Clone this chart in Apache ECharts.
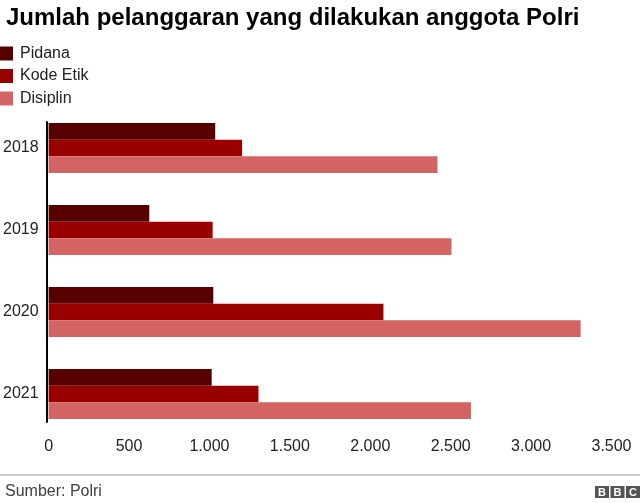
<!DOCTYPE html>
<html>
<head>
<meta charset="utf-8">
<script src="https://cdn.jsdelivr.net/npm/echarts@6/dist/echarts.min.js"></script>
<style>
  html, body { margin: 0; padding: 0; background: #fff; }
  #chart { width: 640px; height: 503px; }
</style>
</head>
<body>
<div id="chart"></div>
<script>
const titleText = 'Jumlah pelanggaran yang dilakukan anggota Polri';
const sourceText = 'Sumber: Polri';
const years = ['2018', '2019', '2020', '2021'];
const seriesNames = ['Pidana', 'Kode Etik', 'Disiplin'];
const pidana = [1036, 626, 1024, 1014];
const kodeEtik = [1203, 1020, 2082, 1305];
const disiplin = [2418, 2505, 3308, 2626];
const xTicks = [0, 500, 1000, 1500, 2000, 2500, 3000, 3500];
const colors = ['#560000', '#990000', '#d46464'];

const font = 'Liberation Sans, Arial, Helvetica, sans-serif';
const chart = echarts.init(document.getElementById('chart'));

function fmt(v) {
  return String(v).replace(/\B(?=(\d{3})+(?!\d))/g, '.');
}

const values = [pidana, kodeEtik, disiplin];

chart.setOption({
  animation: false,
  textStyle: { fontFamily: font },
  title: [
    {
      text: titleText, left: 1, top: 1,
      textStyle: { fontFamily: font, fontSize: 24, fontWeight: 'bold', color: '#000' }
    },
    {
      text: sourceText, left: 0, top: 479,
      textStyle: { fontFamily: font, fontSize: 16, fontWeight: 'normal', color: '#404040' }
    }
  ],
  legend: {
    orient: 'vertical', left: 0, top: 45.5,
    itemWidth: 13, itemHeight: 14, itemGap: 6.5,
    icon: 'rect',
    data: seriesNames,
    textStyle: { fontFamily: font, fontSize: 16, color: '#222', padding: [2, 0, 0, 2] },
    padding: 0
  },
  grid: [
    { left: 46.5, width: 565, top: 107, height: 328, containLabel: false },
    { left: 46.5, width: 565, top: 122, height: 300, containLabel: false }
  ],
  xAxis: [
    {
      type: 'value', gridIndex: 0, min: xTicks[0], max: xTicks[xTicks.length - 1], interval: 500,
      axisLine: { show: false }, axisTick: { show: false }, splitLine: { show: false },
      axisLabel: { fontFamily: font, fontSize: 16, color: '#222', margin: 4, formatter: fmt }
    },
    { type: 'value', gridIndex: 1, min: 0, max: 3500, show: false }
  ],
  yAxis: [
    {
      type: 'category', gridIndex: 0, data: years, inverse: true,
      axisLine: { show: false }, axisTick: { show: false },
      axisLabel: { fontFamily: font, fontSize: 16, color: '#222', margin: 10 }
    },
    {
      type: 'category', gridIndex: 1, data: [''],
      axisLine: { show: true, lineStyle: { color: '#000', width: 2 } },
      axisTick: { show: false }, axisLabel: { show: false }
    }
  ],
  series: seriesNames.map((name, i) => ({
    name: name,
    type: 'bar',
    xAxisIndex: 0, yAxisIndex: 0,
    data: values[i],
    barGap: '0%',
    barCategoryGap: '39%',
    itemStyle: { color: colors[i] }
  })),
  graphic: [
    {
      type: 'line', shape: { x1: 0, y1: 475, x2: 640, y2: 475 },
      style: { stroke: '#999', lineWidth: 1 }
    },
    {
      type: 'group', left: 595, top: 486,
      children: ['B', 'B', 'C'].flatMap((ch, k) => [
        { type: 'rect', shape: { x: k * 15.5, y: 0, width: 14, height: 12 }, style: { fill: '#555' } },
        { type: 'text', x: k * 15.5 + 7, y: 6.5, style: { text: ch, fill: '#fff', font: 'bold 11px ' + font, align: 'center', verticalAlign: 'middle' } }
      ])
    }
  ]
});
</script>
</body>
</html>
